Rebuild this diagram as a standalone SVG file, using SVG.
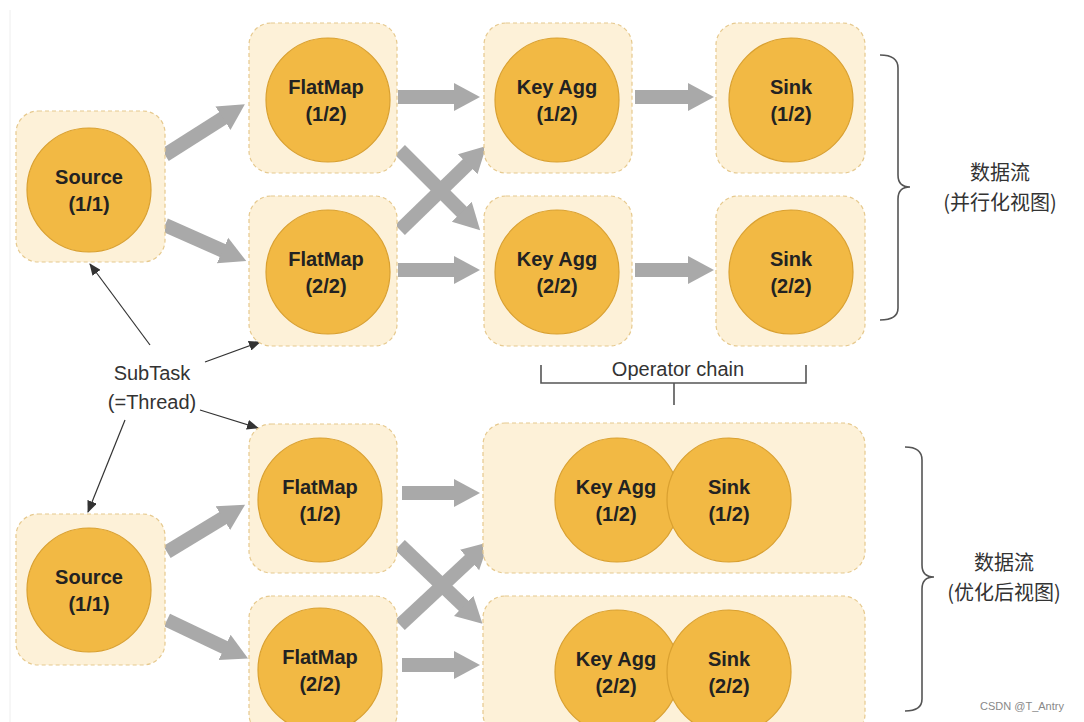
<svg xmlns="http://www.w3.org/2000/svg" width="1084" height="722" viewBox="0 0 1084 722">
<style>
.box{fill:#FDF1D8;stroke:#E6C98E;stroke-width:1.2;stroke-dasharray:4 3}
.c{fill:#F2B944;stroke:#D9A030;stroke-width:1.2}
.t{font-family:"Liberation Sans",Arial,sans-serif;font-weight:bold;font-size:20px;fill:#222;text-anchor:middle}
.n{font-family:"Liberation Sans",Arial,sans-serif;font-size:20px;fill:#333;text-anchor:middle}
.zh{font-family:"Noto Sans CJK SC",sans-serif;font-size:20px;fill:#333;text-anchor:middle}
.g{stroke:#A9A9A9;stroke-width:14;fill:none}
.thin{stroke:#333;stroke-width:1.2;fill:none}
.br{stroke:#555;stroke-width:1.6;fill:none}
</style>
<defs>
<marker id="ga" markerUnits="userSpaceOnUse" markerWidth="28" markerHeight="32" refX="6" refY="16" orient="auto"><path d="M0,2 L26,16 L0,30 Z" fill="#A9A9A9"/></marker>
<marker id="ta" markerUnits="userSpaceOnUse" markerWidth="12" markerHeight="10" refX="11" refY="5" orient="auto"><path d="M0,0 L12,5 L0,10 Z" fill="#333"/></marker>
</defs>
<rect width="1084" height="722" fill="#fff"/>
<line x1="10" y1="10" x2="10" y2="722" stroke="#eee"/>
<g id="connectors">
<line class="g" x1="165" y1="155" x2="228" y2="115" marker-end="url(#ga)"/>
<line class="g" x1="165" y1="225" x2="228" y2="253" marker-end="url(#ga)"/>
<line class="g" x1="398" y1="97" x2="460" y2="97" marker-end="url(#ga)"/>
<line class="g" x1="398" y1="270" x2="460" y2="270" marker-end="url(#ga)"/>
<line class="g" x1="400" y1="150" x2="466" y2="216" marker-end="url(#ga)"/>
<line class="g" x1="400" y1="230" x2="472" y2="160" marker-end="url(#ga)"/>
<line class="g" x1="635" y1="97" x2="694" y2="97" marker-end="url(#ga)"/>
<line class="g" x1="635" y1="270" x2="694" y2="270" marker-end="url(#ga)"/>
<line class="g" x1="167" y1="552" x2="228" y2="515" marker-end="url(#ga)"/>
<line class="g" x1="167" y1="620" x2="230" y2="650" marker-end="url(#ga)"/>
<line class="g" x1="402" y1="493" x2="460" y2="493" marker-end="url(#ga)"/>
<line class="g" x1="402" y1="665" x2="460" y2="665" marker-end="url(#ga)"/>
<line class="g" x1="400" y1="545" x2="468" y2="610" marker-end="url(#ga)"/>
<line class="g" x1="400" y1="625" x2="474" y2="556" marker-end="url(#ga)"/>
<line class="thin" x1="150" y1="345" x2="90" y2="264" marker-end="url(#ta)"/>
<line class="thin" x1="205" y1="362" x2="260" y2="342" marker-end="url(#ta)"/>
<line class="thin" x1="200" y1="410" x2="258" y2="428" marker-end="url(#ta)"/>
<line class="thin" x1="125" y1="420" x2="88" y2="512" marker-end="url(#ta)"/>
</g>
<g id="source1"><rect class="box" x="16" y="111" width="149" height="151" rx="22"/><circle class="c" cx="89" cy="190" r="62"/><text class="t" x="89" y="184">Source</text><text class="t" x="89" y="211">(1/1)</text></g>
<g id="flatmap1"><rect class="box" x="249" y="23" width="148" height="150" rx="22"/><circle class="c" cx="328" cy="100" r="62"/><text class="t" x="326" y="94">FlatMap</text><text class="t" x="326" y="121">(1/2)</text></g>
<g id="flatmap2"><rect class="box" x="249" y="196" width="148" height="150" rx="22"/><circle class="c" cx="328" cy="272" r="62"/><text class="t" x="326" y="266">FlatMap</text><text class="t" x="326" y="293">(2/2)</text></g>
<g id="keyagg1"><rect class="box" x="484" y="23" width="148" height="150" rx="22"/><circle class="c" cx="557" cy="100" r="62"/><text class="t" x="557" y="94">Key Agg</text><text class="t" x="557" y="121">(1/2)</text></g>
<g id="keyagg2"><rect class="box" x="484" y="196" width="148" height="150" rx="22"/><circle class="c" cx="557" cy="272" r="62"/><text class="t" x="557" y="266">Key Agg</text><text class="t" x="557" y="293">(2/2)</text></g>
<g id="sink1"><rect class="box" x="716" y="23" width="149" height="150" rx="22"/><circle class="c" cx="791" cy="100" r="62"/><text class="t" x="791" y="94">Sink</text><text class="t" x="791" y="121">(1/2)</text></g>
<g id="sink2"><rect class="box" x="716" y="196" width="149" height="150" rx="22"/><circle class="c" cx="791" cy="272" r="62"/><text class="t" x="791" y="266">Sink</text><text class="t" x="791" y="293">(2/2)</text></g>
<g id="brace1"><path class="br" d="M880,55 Q898,55 898,68 L898,175 Q898,187 910,187 Q898,187 898,199 L898,308 Q898,320 880,320"/><text class="zh" x="1000" y="180">数据流</text><text class="zh" x="1000" y="210">(并行化视图)</text></g>
<g id="opchain"><path class="br" d="M541,365 L541,383 L806,383 L806,365 M674,383 L674,405"/><text class="n" x="678" y="376">Operator chain</text></g>
<g id="subtask"><text class="n" x="152" y="380">SubTask</text><text class="n" x="152" y="409">(=Thread)</text></g>
<g id="source2"><rect class="box" x="16" y="514" width="149" height="151" rx="22"/><circle class="c" cx="89" cy="590" r="62"/><text class="t" x="89" y="584">Source</text><text class="t" x="89" y="611">(1/1)</text></g>
<g id="flatmap3"><rect class="box" x="249" y="424" width="148" height="149" rx="22"/><circle class="c" cx="320" cy="500" r="62"/><text class="t" x="320" y="494">FlatMap</text><text class="t" x="320" y="521">(1/2)</text></g>
<g id="flatmap4"><rect class="box" x="249" y="596" width="148" height="140" rx="22"/><circle class="c" cx="320" cy="670" r="62"/><text class="t" x="320" y="664">FlatMap</text><text class="t" x="320" y="691">(2/2)</text></g>
<g id="chain1"><rect class="box" x="483" y="423" width="382" height="150" rx="22"/><circle class="c" cx="617" cy="500" r="62"/><circle class="c" cx="729" cy="500" r="62"/><text class="t" x="616" y="494">Key Agg</text><text class="t" x="616" y="521">(1/2)</text><text class="t" x="729" y="494">Sink</text><text class="t" x="729" y="521">(1/2)</text></g>
<g id="chain2"><rect class="box" x="483" y="596" width="382" height="140" rx="22"/><circle class="c" cx="617" cy="672" r="62"/><circle class="c" cx="729" cy="672" r="62"/><text class="t" x="616" y="666">Key Agg</text><text class="t" x="616" y="693">(2/2)</text><text class="t" x="729" y="666">Sink</text><text class="t" x="729" y="693">(2/2)</text></g>
<g id="brace2"><path class="br" d="M905,447 Q922,447 922,460 L922,565 Q922,577 934,577 Q922,577 922,589 L922,699 Q922,711 905,711"/><text class="zh" x="1004" y="570">数据流</text><text class="zh" x="1004" y="600">(优化后视图)</text></g>
<text x="1022" y="710" font-family="Liberation Sans,Arial,sans-serif" font-size="11" fill="#888" text-anchor="middle">CSDN @T_Antry</text>
</svg>
